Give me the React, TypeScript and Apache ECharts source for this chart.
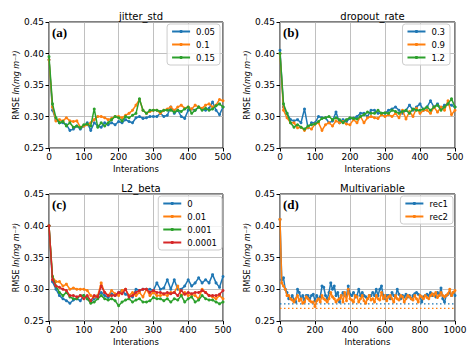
import React, { useEffect, useRef } from "react";
import * as echarts from "echarts";

const STEP_A = 10;
const STEP_D = 10;

const jitterNames = ["0.05", "0.1", "0.15"];
const jitter005 = [0.39, 0.31, 0.295, 0.29, 0.29, 0.287, 0.278, 0.28, 0.285, 0.28, 0.285, 0.29, 0.278, 0.29, 0.285, 0.283, 0.29, 0.287, 0.29, 0.287, 0.292, 0.29, 0.295, 0.292, 0.29, 0.298, 0.3, 0.297, 0.298, 0.3, 0.3, 0.3, 0.305, 0.3, 0.302, 0.315, 0.305, 0.31, 0.3, 0.297, 0.31, 0.312, 0.31, 0.315, 0.312, 0.31, 0.313, 0.323, 0.31, 0.303, 0.315];
const jitter01 = [0.39, 0.315, 0.293, 0.295, 0.293, 0.298, 0.293, 0.292, 0.293, 0.283, 0.285, 0.287, 0.29, 0.295, 0.3, 0.3, 0.298, 0.295, 0.297, 0.3, 0.3, 0.298, 0.302, 0.305, 0.31, 0.318, 0.327, 0.31, 0.305, 0.308, 0.31, 0.31, 0.305, 0.31, 0.312, 0.315, 0.31, 0.315, 0.318, 0.313, 0.315, 0.312, 0.318, 0.315, 0.313, 0.318, 0.32, 0.315, 0.318, 0.327, 0.325];
const jitter015 = [0.395, 0.32, 0.298, 0.29, 0.292, 0.285, 0.29, 0.283, 0.285, 0.282, 0.287, 0.288, 0.285, 0.312, 0.283, 0.29, 0.285, 0.29, 0.295, 0.3, 0.298, 0.293, 0.3, 0.298, 0.302, 0.305, 0.328, 0.31, 0.305, 0.31, 0.31, 0.31, 0.308, 0.31, 0.31, 0.31, 0.307, 0.31, 0.308, 0.312, 0.315, 0.305, 0.31, 0.315, 0.31, 0.313, 0.31, 0.312, 0.317, 0.32, 0.315];

const dropoutNames = ["0.3", "0.9", "1.2"];
const dropout03 = [0.405, 0.315, 0.305, 0.295, 0.293, 0.295, 0.29, 0.312, 0.282, 0.29, 0.29, 0.3, 0.298, 0.298, 0.29, 0.293, 0.307, 0.29, 0.295, 0.292, 0.297, 0.297, 0.3, 0.305, 0.305, 0.3, 0.31, 0.31, 0.305, 0.305, 0.305, 0.31, 0.312, 0.315, 0.31, 0.305, 0.31, 0.318, 0.31, 0.315, 0.32, 0.31, 0.315, 0.325, 0.315, 0.32, 0.313, 0.318, 0.32, 0.318, 0.315];
const dropout09 = [0.4, 0.31, 0.298, 0.29, 0.29, 0.282, 0.283, 0.278, 0.283, 0.28, 0.288, 0.29, 0.278, 0.287, 0.29, 0.285, 0.293, 0.29, 0.292, 0.288, 0.287, 0.295, 0.29, 0.3, 0.29, 0.298, 0.3, 0.298, 0.297, 0.303, 0.3, 0.303, 0.3, 0.305, 0.298, 0.31, 0.296, 0.308, 0.3, 0.313, 0.305, 0.31, 0.31, 0.305, 0.315, 0.307, 0.315, 0.31, 0.325, 0.303, 0.31];
const dropout12 = [0.4, 0.32, 0.305, 0.29, 0.283, 0.287, 0.283, 0.28, 0.285, 0.287, 0.288, 0.292, 0.297, 0.298, 0.3, 0.295, 0.298, 0.295, 0.29, 0.295, 0.298, 0.297, 0.296, 0.3, 0.303, 0.307, 0.305, 0.305, 0.31, 0.305, 0.306, 0.305, 0.31, 0.308, 0.305, 0.308, 0.31, 0.305, 0.312, 0.31, 0.31, 0.312, 0.315, 0.31, 0.315, 0.318, 0.31, 0.315, 0.32, 0.328, 0.315];

const l2Names = ["0", "0.01", "0.001", "0.0001"];
const l2_0 = [0.4, 0.312, 0.3, 0.29, 0.285, 0.282, 0.278, 0.283, 0.285, 0.282, 0.29, 0.285, 0.28, 0.285, 0.29, 0.295, 0.29, 0.287, 0.293, 0.29, 0.295, 0.298, 0.292, 0.29, 0.288, 0.3, 0.298, 0.3, 0.3, 0.3, 0.298, 0.31, 0.3, 0.302, 0.315, 0.3, 0.315, 0.3, 0.3, 0.305, 0.315, 0.305, 0.31, 0.318, 0.31, 0.315, 0.31, 0.323, 0.31, 0.303, 0.32];
const l2_001 = [0.4, 0.32, 0.312, 0.312, 0.305, 0.308, 0.3, 0.302, 0.3, 0.3, 0.3, 0.298, 0.29, 0.288, 0.29, 0.31, 0.295, 0.29, 0.298, 0.293, 0.29, 0.298, 0.3, 0.29, 0.295, 0.29, 0.295, 0.288, 0.3, 0.29, 0.295, 0.29, 0.29, 0.292, 0.29, 0.295, 0.295, 0.305, 0.29, 0.295, 0.29, 0.292, 0.29, 0.285, 0.3, 0.295, 0.29, 0.288, 0.285, 0.29, 0.285];
const l2_0001 = [0.4, 0.32, 0.305, 0.295, 0.29, 0.295, 0.288, 0.285, 0.285, 0.29, 0.29, 0.285, 0.278, 0.28, 0.285, 0.29, 0.285, 0.283, 0.285, 0.282, 0.274, 0.28, 0.283, 0.285, 0.28, 0.283, 0.285, 0.28, 0.28, 0.282, 0.287, 0.285, 0.285, 0.282, 0.285, 0.28, 0.285, 0.283, 0.29, 0.28, 0.285, 0.288, 0.28, 0.283, 0.29, 0.285, 0.283, 0.283, 0.28, 0.277, 0.28];
const l2_00001 = [0.4, 0.315, 0.305, 0.303, 0.3, 0.298, 0.29, 0.29, 0.288, 0.29, 0.285, 0.29, 0.282, 0.29, 0.288, 0.305, 0.295, 0.29, 0.29, 0.29, 0.295, 0.293, 0.3, 0.288, 0.29, 0.295, 0.298, 0.3, 0.3, 0.295, 0.298, 0.295, 0.295, 0.293, 0.295, 0.293, 0.295, 0.29, 0.298, 0.292, 0.295, 0.293, 0.295, 0.295, 0.298, 0.295, 0.29, 0.29, 0.29, 0.292, 0.298];

const multiNames = ["rec1", "rec2"];
const rec1 = [0.41, 0.315, 0.318, 0.3, 0.295, 0.285, 0.285, 0.29, 0.283, 0.28, 0.3, 0.295, 0.285, 0.29, 0.283, 0.29, 0.29, 0.285, 0.29, 0.292, 0.282, 0.29, 0.285, 0.288, 0.305, 0.303, 0.29, 0.285, 0.295, 0.31, 0.3, 0.305, 0.29, 0.295, 0.28, 0.29, 0.295, 0.29, 0.29, 0.305, 0.292, 0.29, 0.295, 0.288, 0.29, 0.3, 0.29, 0.295, 0.29, 0.288, 0.285, 0.29, 0.29, 0.295, 0.29, 0.3, 0.29, 0.3, 0.305, 0.29, 0.285, 0.29, 0.29, 0.285, 0.295, 0.29, 0.288, 0.3, 0.292, 0.285, 0.29, 0.288, 0.292, 0.288, 0.29, 0.285, 0.29, 0.293, 0.295, 0.292, 0.29, 0.28, 0.288, 0.29, 0.292, 0.29, 0.295, 0.29, 0.292, 0.288, 0.295, 0.29, 0.302, 0.285, 0.28, 0.29, 0.292, 0.295, 0.29, 0.295, 0.29];
const rec2 = [0.41, 0.31, 0.305, 0.3, 0.29, 0.29, 0.285, 0.283, 0.28, 0.285, 0.29, 0.282, 0.285, 0.278, 0.28, 0.288, 0.285, 0.282, 0.28, 0.28, 0.273, 0.282, 0.285, 0.28, 0.29, 0.285, 0.283, 0.28, 0.285, 0.295, 0.288, 0.285, 0.28, 0.283, 0.285, 0.29, 0.28, 0.295, 0.282, 0.3, 0.285, 0.283, 0.28, 0.29, 0.288, 0.28, 0.285, 0.29, 0.282, 0.278, 0.285, 0.29, 0.283, 0.285, 0.28, 0.29, 0.285, 0.283, 0.295, 0.285, 0.29, 0.282, 0.288, 0.29, 0.285, 0.28, 0.29, 0.285, 0.283, 0.29, 0.288, 0.28, 0.285, 0.29, 0.288, 0.285, 0.283, 0.29, 0.285, 0.28, 0.29, 0.288, 0.285, 0.29, 0.287, 0.285, 0.29, 0.293, 0.29, 0.295, 0.287, 0.29, 0.295, 0.29, 0.288, 0.29, 0.293, 0.3, 0.29, 0.295, 0.298];
const rec1Baseline = 0.277;
const rec2Baseline = 0.27;

const titles = ["jitter_std", "dropout_rate", "L2_beta", "Multivariable"];
const panelLabels = ["(a)", "(b)", "(c)", "(d)"];

const COLORS = ["#1f77b4", "#ff7f0e", "#2ca02c", "#d62728"];
const FONT = "DejaVu Sans";

const grids = [
  { left: 49, top: 22, width: 174, height: 126 },
  { left: 280, top: 22, width: 175, height: 126 },
  { left: 49, top: 194, width: 174, height: 127 },
  { left: 280, top: 194, width: 175, height: 127 },
];

function toPairs(vals: number[], step: number) {
  return vals.map((v, i) => [i * step, v]);
}

export default function App() {
  const ref = useRef<HTMLDivElement>(null);
  useEffect(() => {
    if (!ref.current) return;
    const chart = echarts.init(ref.current, undefined, { renderer: "svg" });

    const panels = [
      { names: jitterNames, data: [jitter005, jitter01, jitter015], step: STEP_A, xmax: 500, xint: 100 },
      { names: dropoutNames, data: [dropout03, dropout09, dropout12], step: STEP_A, xmax: 500, xint: 100 },
      { names: l2Names, data: [l2_0, l2_001, l2_0001, l2_00001], step: STEP_A, xmax: 500, xint: 100 },
      { names: multiNames, data: [rec1, rec2], step: STEP_D, xmax: 1000, xint: 200 },
    ];

    const gridOpts = grids.map((g) => ({
      left: g.left,
      top: g.top,
      width: g.width,
      height: g.height,
      show: true,
      borderColor: "#000",
      borderWidth: 1,
      backgroundColor: "transparent",
      containLabel: false,
    }));

    const xAxes = panels.map((p, i) => ({
      type: "value",
      gridIndex: i,
      min: 0,
      max: p.xmax,
      interval: p.xint,
      name: "Interations",
      nameLocation: "middle",
      nameGap: 16,
      nameTextStyle: { fontFamily: FONT, fontSize: 8.5, color: "#000" },
      axisLine: { show: false },
      axisTick: { show: true, length: 3.5, lineStyle: { color: "#000" } },
      axisLabel: {
        fontFamily: FONT,
        fontSize: 9,
        color: "#000",
        margin: 4,
        formatter: (v: number) => String(v),
      },
      splitLine: { show: true, lineStyle: { color: "#b0b0b0", width: 0.8 } },
    }));

    const yAxes = panels.map((p, i) => ({
      type: "value",
      gridIndex: i,
      min: 0.25,
      max: 0.45,
      interval: 0.05,
      name: "{n|RMSE }{i|ln(mg m⁻³)}",
      nameLocation: "middle",
      nameRotate: 90,
      nameGap: 29,
      nameTextStyle: {
        fontFamily: FONT,
        fontSize: 8,
        color: "#000",
        rich: {
          n: { fontFamily: FONT, fontSize: 8, color: "#000" },
          i: { fontFamily: FONT, fontSize: 8, color: "#000", fontStyle: "italic" },
        },
      },
      axisLine: { show: false },
      axisTick: { show: true, length: 3.5, lineStyle: { color: "#000" } },
      axisLabel: {
        fontFamily: FONT,
        fontSize: 9,
        color: "#000",
        margin: 5,
        formatter: (v: number) => v.toFixed(2),
      },
      splitLine: { show: true, lineStyle: { color: "#b0b0b0", width: 0.8 } },
    }));

    const series: any[] = [];
    panels.forEach((p, i) => {
      p.data.forEach((vals, k) => {
        series.push({
          type: "line",
          name: p.names[k],
          xAxisIndex: i,
          yAxisIndex: i,
          data: toPairs(vals, p.step),
          symbol: "circle",
          symbolSize: 3,
          showSymbol: true,
          color: COLORS[k],
          lineStyle: { width: 1.5, color: COLORS[k] },
          itemStyle: { color: COLORS[k] },
          z: 3 + k,
        });
      });
    });
    [rec1Baseline, rec2Baseline].forEach((b, k) => {
      series.push({
        type: "line",
        name: "base" + k,
        xAxisIndex: 3,
        yAxisIndex: 3,
        data: [[0, b], [1000, b]],
        symbol: "none",
        lineStyle: { width: 1.2, color: COLORS[k], type: [1.5, 2.5] },
        z: 2,
        silent: true,
      });
    });

    const legendPos = [
      { right: 254, top: 24 },
      { right: 24, top: 24 },
      { right: 252, top: 196 },
      { right: 21, top: 196 },
    ];

    const legends = panels.map((p, i) => ({
      data: p.names,
      orient: "vertical",
      right: legendPos[i].right,
      top: legendPos[i].top,
      backgroundColor: "rgba(255,255,255,0.8)",
      borderColor: "#cccccc",
      borderWidth: 1,
      borderRadius: 3,
      padding: [3, 5, 3, 4],
      itemGap: 4,
      itemWidth: 18,
      itemHeight: 4,
      textStyle: { fontFamily: FONT, fontSize: 8.5, color: "#000", padding: [0, 0, 0, 1] },
    }));

    const titleOpts = grids.map((g, i) => ({
      text: titles[i],
      left: g.left + g.width / 2,
      top: g.top - 16,
      textAlign: "center",
      textStyle: { fontFamily: FONT, fontSize: 10, fontWeight: "normal", color: "#000" },
    }));

    const graphics = grids.map((g, i) => ({
      type: "text",
      left: g.left + 3,
      top: g.top + 4,
      style: {
        text: panelLabels[i],
        font: "bold 13px 'Liberation Serif', 'DejaVu Serif', serif",
        fill: "#000",
      },
      z: 100,
    }));

    chart.setOption({
      animation: false,
      backgroundColor: "#fff",
      title: titleOpts,
      grid: gridOpts,
      xAxis: xAxes,
      yAxis: yAxes,
      legend: legends,
      series,
      graphic: graphics,
    });
    return () => chart.dispose();
  }, []);
  return (
    <div
      ref={ref}
      style={{ position: "fixed", left: 0, top: 0, width: 474, height: 355 }}
    />
  );
}
